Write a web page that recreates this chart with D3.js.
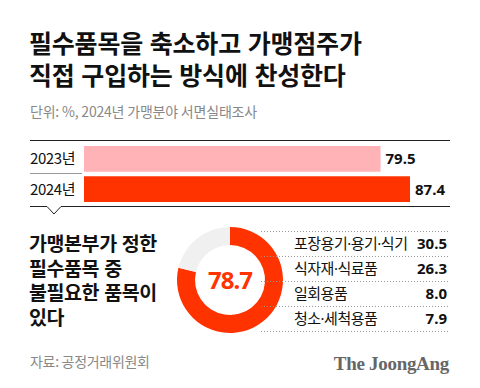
<!DOCTYPE html>
<html>
<head>
<meta charset="utf-8">
<script src="https://cdn.jsdelivr.net/npm/d3@7"></script>
<style>
  body { margin: 0; background: #fff; }
  svg { display: block; font-family: "Noto Sans CJK KR", "Noto Sans", sans-serif; }
</style>
</head>
<body>
<svg id="chart" width="480" height="388"></svg>
<script>
// chart data
var years = ['2023년', '2024년'];
var yearValues = [79.5, 87.4];
var donutValue = 78.7;
var items = ['포장용기·용기·식기', '식자재·식료품', '일회용품', '청소·세척용품'];
var itemValues = [30.5, 26.3, 8.0, 7.9];

var titleLines = ['필수품목을 축소하고 가맹점주가', '직접 구입하는 방식에 찬성한다'];
var questionLines = ['가맹본부가 정한', '필수품목 중', '불필요한 품목이', '있다'];

var red = '#ff3300';
var pink = '#ffb3b6';
// narrow middle dot comes from Noto Sans, hangul falls back to CJK
var tableFont = '"Noto Sans", "Noto Sans CJK KR", sans-serif';
// tighter line box for stacked multi-line headings
var stackFont = '"Liberation Sans", "Noto Sans CJK KR", sans-serif';

var svg = d3.select('svg#chart');

// title
svg.selectAll('.title')
    .data(titleLines)
    .enter().append('text')
        .attr('class', 'title')
        .attr('x', 29)
        .attr('y', function(d, i) { return 53 + i * 32; })
        .attr('font-family', stackFont)
        .attr('font-size', 25)
        .attr('font-weight', 700)
        .attr('fill', '#111')
        .attr('letter-spacing', -0.2)
        .text(function(d) { return d; });

svg.append('text')
    .attr('x', 30)
    .attr('y', 117)
    .attr('font-size', 14)
    .attr('fill', '#888')
    .attr('letter-spacing', -0.2)
    .text('단위: %, 2024년 가맹분야 서면실태조사');

// bars
var x = d3.scaleLinear().domain([0, 100]).range([84, 84 + 373]);
var y = d3.scaleBand().domain(years).range([146, 202]).paddingInner(0.15);

svg.append('line').attr('x1', 30).attr('x2', 450).attr('y1', 140.5).attr('y2', 140.5)
    .attr('stroke', '#222').attr('stroke-width', 1);
svg.append('line').attr('x1', 30).attr('x2', 82).attr('y1', 173.5).attr('y2', 173.5)
    .attr('stroke', '#999').attr('stroke-width', 1);
// bottom line with notch
svg.append('path')
    .attr('d', 'M30,206.5 H47 L54,214 L61,206.5 H450')
    .attr('fill', 'none')
    .attr('stroke', '#222')
    .attr('stroke-width', 1);

svg.selectAll('.bar')
    .data(yearValues)
    .enter().append('rect')
        .attr('class', 'bar')
        .attr('x', x(0))
        .attr('y', function(d, i) { return y(years[i]); })
        .attr('width', function(d) { return x(d) - x(0); })
        .attr('height', y.bandwidth())
        .attr('fill', function(d, i) { return i === 0 ? pink : red; });

svg.selectAll('.year')
    .data(years)
    .enter().append('text')
        .attr('x', 30)
        .attr('y', function(d) { return y(d) + y.bandwidth() / 2 + 5.5; })
        .attr('font-size', 15)
        .attr('fill', '#111')
        .attr('letter-spacing', -0.4)
        .text(function(d) { return d; });

svg.selectAll('.val')
    .data(yearValues)
    .enter().append('text')
        .attr('x', function(d) { return x(d) + 5; })
        .attr('y', function(d, i) { return y(years[i]) + y.bandwidth() / 2 + 5.5; })
        .attr('font-family', tableFont)
        .attr('font-size', 15)
        .attr('font-weight', 700)
        .attr('fill', '#111')
        .text(function(d) { return d.toFixed(1); });

// question text
svg.selectAll('.q')
    .data(questionLines)
    .enter().append('text')
        .attr('class', 'q')
        .attr('x', 29)
        .attr('y', function(d, i) { return 251 + i * 24.7; })
        .attr('font-family', stackFont)
        .attr('font-size', 19.5)
        .attr('font-weight', 700)
        .attr('fill', '#111')
        .attr('letter-spacing', -0.4)
        .text(function(d) { return d; });

// donut
var cx = 230, cy = 280;
var pie = d3.pie().sort(null);
var arc = d3.arc().innerRadius(35).outerRadius(53);
var g = svg.append('g').attr('transform', 'translate(' + cx + ',' + cy + ')');
g.selectAll('path')
    .data(pie([donutValue, 100 - donutValue]))
    .enter().append('path')
        .attr('d', arc)
        .attr('fill', function(d, i) { return i === 0 ? red : '#f0f0f0'; });
g.append('text')
    .attr('text-anchor', 'middle')
    .attr('y', 9)
    .attr('font-family', tableFont)
    .attr('font-size', 24)
    .attr('font-weight', 700)
    .attr('fill', red)
    .attr('letter-spacing', -1)
    .text(donutValue.toFixed(1));

// table
var rowY = d3.scaleBand().domain(items).range([231, 331]);
svg.selectAll('.rule')
    .data(d3.range(items.length + 1))
    .enter().append('line')
        .attr('x1', 261).attr('x2', 450)
        .attr('y1', function(d) { return 231 + d * rowY.bandwidth() + 0.5; })
        .attr('y2', function(d) { return 231 + d * rowY.bandwidth() + 0.5; })
        .attr('stroke', '#999')
        .attr('stroke-dasharray', '1,2');

svg.selectAll('.item')
    .data(items)
    .enter().append('text')
        .attr('x', 294)
        .attr('y', function(d) { return rowY(d) + rowY.bandwidth() / 2 + 5.5; })
        .attr('font-family', tableFont)
        .attr('font-size', 15)
        .attr('fill', '#111')
        .attr('letter-spacing', -0.5)
        .text(function(d) { return d; });

svg.selectAll('.itemVal')
    .data(itemValues)
    .enter().append('text')
        .attr('x', 447)
        .attr('text-anchor', 'end')
        .attr('y', function(d, i) { return rowY(items[i]) + rowY.bandwidth() / 2 + 5.5; })
        .attr('font-family', tableFont)
        .attr('font-size', 15)
        .attr('font-weight', 700)
        .attr('fill', '#111')
        .text(function(d) { return d.toFixed(1); });

// footer
svg.append('text')
    .attr('x', 30)
    .attr('y', 367)
    .attr('font-size', 14)
    .attr('fill', '#888')
    .attr('letter-spacing', -0.3)
    .text('자료: 공정거래위원회');

svg.append('text')
    .attr('x', 449)
    .attr('y', 370)
    .attr('text-anchor', 'end')
    .attr('font-family', '"Liberation Serif", "DejaVu Serif", serif')
    .attr('font-size', 19)
    .attr('font-weight', 700)
    .attr('fill', '#666')
    .attr('letter-spacing', -0.3)
    .text('The JoongAng');
</script>
</body>
</html>
